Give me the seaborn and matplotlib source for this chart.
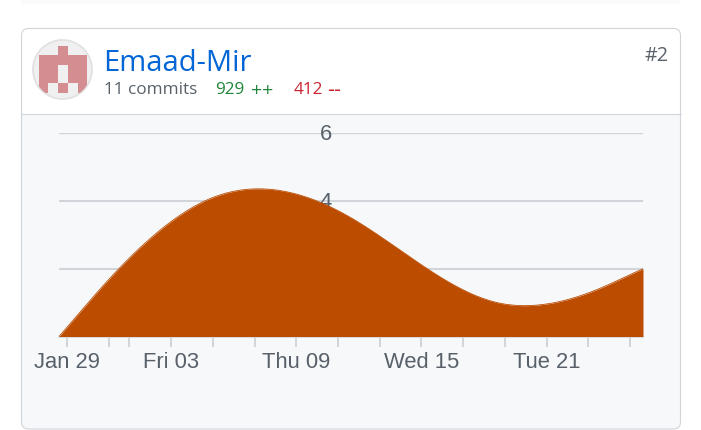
import numpy as np
import pandas as pd
import matplotlib
matplotlib.use("Agg")
import matplotlib.pyplot as plt
import matplotlib.dates as mdates
from matplotlib.patches import FancyBboxPatch, Rectangle, Circle
import seaborn as sns

# ---- data ----
author = "Emaad-Mir"
rank = "#2"
commits_text = "11 commits"
additions_value = "929"
additions_mark = "++"
deletions_value = "412"
deletions_mark = "--"
week_starts = pd.date_range("2017-01-28 15:00", periods=5, freq="7D")
weekly_commits = [0, 5, 4, 0, 2]
y_ticks = [0, 2, 4, 6]
x_tick_dates = pd.to_datetime([
    "2017-01-29", "2017-01-31", "2017-02-01", "2017-02-03", "2017-02-05",
    "2017-02-07", "2017-02-09", "2017-02-11", "2017-02-13", "2017-02-15",
    "2017-02-17", "2017-02-19", "2017-02-21", "2017-02-23", "2017-02-25"])
x_tick_labels = ["Jan 29", "", "", "Fri 03", "", "", "Thu 09", "", "", "Wed 15",
                 "", "", "Tue 21", "", ""]

W, H = 701, 430
BORDER = "#d1d5da"
PANEL = "#f6f8fa"
GRAY = "#586069"
AREA = "#bc4c00"

sns.set_theme(style="white")
plt.rcParams["font.family"] = ["Open Sans", "DejaVu Sans"]


def basis_curve(xs, ys, n=40):
    """Uniform cubic B-spline (the area's curve type), clamped at the ends."""
    px = np.r_[xs[0], xs[0], xs, xs[-1], xs[-1]].astype(float)
    py = np.r_[ys[0], ys[0], ys, ys[-1], ys[-1]].astype(float)
    t = np.linspace(0, 1, n, endpoint=False)[:, None]
    b = np.hstack([(1 - t) ** 3, 3 * t ** 3 - 6 * t ** 2 + 4,
                   -3 * t ** 3 + 3 * t ** 2 + 3 * t + 1, t ** 3]) / 6
    cx, cy = [], []
    for i in range(len(px) - 3):
        cx.append(b @ px[i:i + 4])
        cy.append(b @ py[i:i + 4])
    return np.r_[np.concatenate(cx), xs[-1]], np.r_[np.concatenate(cy), ys[-1]]


fig = plt.figure(figsize=(W / 100, H / 100), dpi=100, facecolor="white")

# ---- page layer in pixel coordinates ----
bg = fig.add_axes([0, 0, 1, 1], zorder=0)
bg.set_xlim(0, W)
bg.set_ylim(H, 0)
bg.axis("off")
bg.add_patch(Rectangle((21, 0), 659, 3.5, fc="#fafafa", ec="none"))
box = dict(boxstyle="round,pad=6,rounding_size=7")
bg.add_patch(FancyBboxPatch((27.5, 34.5), 647, 388.5, fc="white", ec="none", **box))
panel = FancyBboxPatch((27.5, 34.5), 647, 388.5, fc=PANEL, ec="none", **box)
bg.add_patch(panel)
panel.set_clip_path(Rectangle((0, 114), W, H, transform=bg.transData))
bg.add_patch(FancyBboxPatch((27.5, 34.5), 647, 388.5, fc="none", ec=BORDER, lw=0.8, **box))
bg.plot([21.5, 680.5], [113.5, 113.5], color=BORDER, lw=0.8)

# avatar
disc = Circle((62.5, 69.5), 29.5, fc="#f0f0f0", ec="#e1e1e1", lw=1.3)
bg.add_patch(disc)
clip = Circle((62.5, 69.5), 29, transform=bg.transData)
for x0, y0, w, h in [(39, 55, 48, 10), (39, 65, 19, 28), (68, 65, 19, 28),
                     (58, 46, 10, 19), (58, 83, 10, 10)]:
    r = Rectangle((x0, y0), w, h, fc="#d48d90", ec="none")
    bg.add_patch(r)
    r.set_clip_path(clip)
for x0, y0, w, h in [(48, 83, 10, 10), (68, 83, 10, 10)]:
    r = Rectangle((x0, y0), w, h, fc="#f0f0f0", ec="none")
    bg.add_patch(r)
    r.set_clip_path(clip)

# header text
bg.text(103.5, 63.5, author, color="#0366d6", fontsize=21, va="center", ha="left")
for x, s, c, fs in [(104, commits_text, GRAY, 12.3), (215, additions_value, "#22863a", 12.3),
                    (250.5, additions_mark, "#22863a", 14.0), (294, deletions_value, "#cb2431", 12.3),
                    (327.5, deletions_mark, "#cb2431", 15.5)]:
    bg.text(x, 90.5, s, color=c, fontsize=fs, va="center", ha="left")
bg.text(668.5, 56, rank, color=GRAY, fontsize=14.2, va="center", ha="right")

# ---- chart ----
ax = fig.add_axes([59 / W, 1 - 336.5 / H, 584 / W, 203.5 / H], zorder=1)
ax.patch.set_alpha(0)
x_num = mdates.date2num(week_starts)
cx, cy = basis_curve(x_num, np.array(weekly_commits, float))

for v, lw in zip(y_ticks, [0, 1.5, 1.5, 1.0]):
    if lw:
        ax.axhline(v, color=BORDER, lw=lw, zorder=1, clip_on=True)
    if v:
        ax.annotate(str(v), xy=((326 - 59) / 584, v), xycoords=ax.get_yaxis_transform(),
                    xytext=(0, -1.0), textcoords="offset points",
                    ha="center", va="center", fontsize=15.8, color=GRAY,
                    family="Liberation Sans", zorder=2, annotation_clip=False)

ax.fill_between(mdates.num2date(cx), 0, cy, color=AREA, lw=0, zorder=3)
sns.lineplot(x=mdates.num2date(cx), y=cy, color=AREA, lw=0.6, ax=ax, zorder=3, errorbar=None)

ax.set_xlim(x_num[0], x_num[-1])
ax.set_ylim(0, 6)
ax.set_xticks(mdates.date2num(x_tick_dates))
ax.set_xticklabels(x_tick_labels, family="Liberation Sans", fontsize=15.8, color=GRAY)
ax.set_yticks([])
ax.tick_params(axis="x", length=7.2, width=1.4, color=BORDER, pad=4, bottom=True)
for s in ["top", "left", "right"]:
    ax.spines[s].set_visible(False)
ax.spines["bottom"].set_color(BORDER)
ax.spines["bottom"].set_linewidth(1.2)
ax.set_xlabel("")
ax.set_ylabel("")

fig.savefig("out.png", dpi=100, facecolor="white")
